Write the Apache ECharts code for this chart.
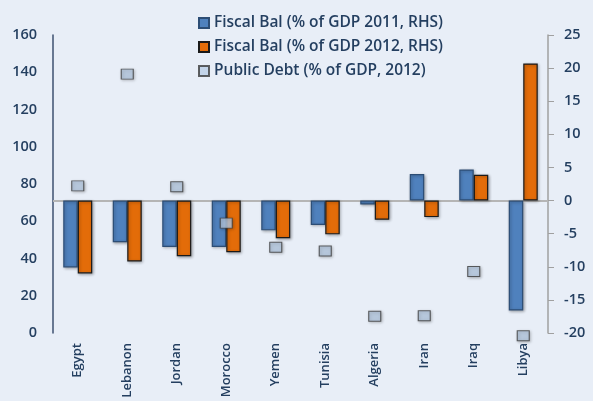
<!DOCTYPE html>
<html>
<head>
<meta charset="utf-8">
<script src="https://cdn.jsdelivr.net/npm/echarts@6/dist/echarts.min.js"></script>
<style>
html,body{margin:0;padding:0;background:#e8eef7;}
#chart{width:593px;height:401px;}
</style>
</head>
<body>
<div id="chart"></div>
<script>
const categories = ['Egypt','Lebanon','Jordan','Morocco','Yemen','Tunisia','Algeria','Iran','Iraq','Libya'];
const fiscal2011 = [-10.1,-6.3,-7.0,-7.0,-4.5,-3.7,-0.6,4.0,4.7,-16.6];
const fiscal2012 = [-11.0,-9.2,-8.4,-7.8,-5.7,-5.1,-2.9,-2.5,3.9,20.7];
const publicDebt = [79,139,78.5,59,46,44,9,9.3,33,-1.5];
const leftTicks = {min:0,max:160,interval:20};
const rightTicks = {min:-20,max:25,interval:5};

const txt = '#243f60';
const font = 'Open Sans';
const chart = echarts.init(document.getElementById('chart'), null, {renderer:'canvas'});
chart.setOption({
  backgroundColor:'#e8eef7',
  animation:false,
  textStyle:{fontFamily:font},
  legend:{
    orient:'vertical', left:193, top:10, itemGap:8,
    itemWidth:10, itemHeight:10,
    textStyle:{color:txt,fontSize:15.5,fontWeight:600,fontFamily:font},
    data:[
      {name:'Fiscal Bal (% of GDP 2011, RHS)',icon:'rect'},
      {name:'Fiscal Bal (% of GDP 2012, RHS)',icon:'rect'},
      {name:'Public Debt (% of GDP, 2012)',icon:'rect'}
    ]
  },
  grid:{left:53,right:45,top:35,bottom:68,containLabel:false},
  xAxis:{
    type:'category', data:categories,
    axisLine:{show:false}, axisTick:{show:false},
    axisLabel:{rotate:90,color:txt,fontSize:13,fontWeight:600,margin:10,interval:0}
  },
  yAxis:[
    {type:'value',position:'left',min:leftTicks.min,max:leftTicks.max,interval:leftTicks.interval,
     splitLine:{show:false},axisTick:{show:false},
     axisLine:{show:true,lineStyle:{color:'#3e5070',width:1.5}},
     axisLabel:{color:txt,fontSize:14.5,fontWeight:600,margin:16}},
    {type:'value',position:'right',min:rightTicks.min,max:rightTicks.max,interval:rightTicks.interval,
     splitLine:{show:false},
     axisTick:{show:true,length:6,lineStyle:{color:'#a0a0a0'}},
     axisLine:{show:true,lineStyle:{color:'#a0a0a0',width:1.5}},
     axisLabel:{color:txt,fontSize:14.5,fontWeight:600,margin:16}}
  ],
  series:[
    {name:'Fiscal Bal (% of GDP 2011, RHS)',type:'bar',yAxisIndex:1,data:fiscal2011,
     barWidth:14.5,barGap:'0%',
     itemStyle:{color:'#4f81bd',borderColor:'#2c4d75',borderWidth:1.2,shadowColor:'rgba(0,0,0,0.3)',shadowBlur:3,shadowOffsetX:1,shadowOffsetY:1},
     markLine:{silent:true,symbol:'none',z:1,label:{show:false},
       lineStyle:{color:'#b5b5b5',width:2,type:'solid'},data:[{yAxis:0}]}},
    {name:'Fiscal Bal (% of GDP 2012, RHS)',type:'bar',yAxisIndex:1,data:fiscal2012,
     barWidth:14.5,barGap:'0%',
     itemStyle:{color:'#e36c09',borderColor:'#1a1a1a',borderWidth:1.2,shadowColor:'rgba(0,0,0,0.3)',shadowBlur:3,shadowOffsetX:1,shadowOffsetY:1}},
    {name:'Public Debt (% of GDP, 2012)',type:'scatter',yAxisIndex:0,data:publicDebt,
     symbol:'rect',symbolSize:[12,10],clip:false,z:5,
     itemStyle:{color:'#b9cde5',borderColor:'#3a3a3a',borderWidth:1,shadowColor:'rgba(0,0,0,0.35)',shadowBlur:3,shadowOffsetX:1,shadowOffsetY:1}}
  ]
});
</script>
</body>
</html>
